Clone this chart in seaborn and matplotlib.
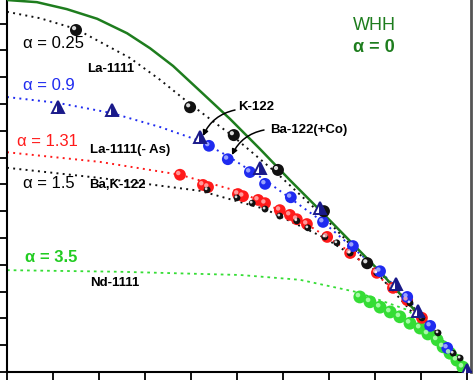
import numpy as np
import pandas as pd
import matplotlib
matplotlib.use("Agg")
import matplotlib.pyplot as plt
import seaborn as sns
from matplotlib.transforms import ScaledTranslation

# ---------------- data (t = T/Tc, h = reduced Hc2) ----------------
whh_t = [0.0, 0.065, 0.130, 0.196, 0.261, 0.311, 0.361, 0.420, 0.485, 0.550, 0.615, 0.680, 0.746, 0.811, 0.876, 0.941, 1.0]
whh_h = [0.694, 0.690, 0.677, 0.659, 0.632, 0.604, 0.571, 0.524, 0.472, 0.416, 0.358, 0.302, 0.244, 0.187, 0.125, 0.062, 0.0]

a025_t = [0.0, 0.072, 0.150, 0.267, 0.333, 0.398, 0.491, 0.589, 0.687, 0.783, 0.876, 0.941, 1.0]
a025_h = [0.672, 0.660, 0.640, 0.586, 0.545, 0.500, 0.440, 0.369, 0.291, 0.205, 0.116, 0.056, 0.0]

a09_t = [0.0, 0.111, 0.228, 0.333, 0.420, 0.480, 0.561, 0.687, 0.811, 0.920, 1.0]
a09_h = [0.513, 0.502, 0.483, 0.457, 0.431, 0.403, 0.358, 0.280, 0.188, 0.093, 0.0]

a131_t = [0.0, 0.202, 0.376, 0.507, 0.637, 0.746, 0.854, 0.941, 1.0]
a131_h = [0.410, 0.392, 0.368, 0.336, 0.284, 0.224, 0.144, 0.060, 0.0]

a15_t = [0.0, 0.202, 0.420, 0.561, 0.691, 0.811, 0.920, 1.0]
a15_h = [0.381, 0.362, 0.338, 0.304, 0.250, 0.185, 0.088, 0.0]

a35_t = [0.0, 0.246, 0.507, 0.637, 0.761, 0.870, 0.926, 1.0]
a35_h = [0.190, 0.187, 0.181, 0.172, 0.149, 0.116, 0.076, 0.0]

la1111_t = [0.150, 0.398, 0.493, 0.589, 0.689, 0.783]
la1111_h = [0.638, 0.494, 0.442, 0.377, 0.300, 0.203]

k122_t = [0.111, 0.228, 0.420, 0.550, 0.680, 0.846, 0.893, 1.0]
k122_h = [0.494, 0.489, 0.438, 0.381, 0.306, 0.164, 0.114, 0.004]

ba122co_t = [0.439, 0.480, 0.528, 0.561, 0.617, 0.687, 0.752, 0.811, 0.870, 0.920, 0.957]
ba122co_h = [0.422, 0.397, 0.373, 0.351, 0.326, 0.280, 0.235, 0.188, 0.140, 0.086, 0.045]

laas_t = [0.376, 0.426, 0.437, 0.502, 0.513, 0.546, 0.561, 0.593, 0.615, 0.630, 0.652, 0.696, 0.746, 0.804, 0.839, 0.870, 0.902]
laas_h = [0.368, 0.349, 0.345, 0.332, 0.328, 0.321, 0.315, 0.302, 0.293, 0.285, 0.276, 0.252, 0.222, 0.185, 0.157, 0.134, 0.101]

bak_t = [0.435, 0.500, 0.533, 0.561, 0.593, 0.630, 0.654, 0.691, 0.717, 0.746, 0.804, 0.839, 0.876, 0.902, 0.937, 0.970, 0.985]
bak_h = [0.340, 0.325, 0.315, 0.304, 0.291, 0.282, 0.269, 0.252, 0.241, 0.222, 0.185, 0.157, 0.129, 0.101, 0.073, 0.035, 0.026]

nd_t = [0.767, 0.789, 0.811, 0.833, 0.854, 0.876, 0.898, 0.915, 0.935, 0.948, 0.963, 0.978, 0.991]
nd_h = [0.140, 0.131, 0.121, 0.112, 0.103, 0.091, 0.082, 0.071, 0.060, 0.047, 0.035, 0.022, 0.009]

# ---------------- figure ----------------
sns.set_theme(style="white")
plt.rcParams['font.family'] = ['Liberation Sans', 'DejaVu Sans']

W, H = 474, 380
fig = plt.figure(figsize=(W / 100, H / 100), dpi=100)
ax = fig.add_axes([7 / W, 8 / H, 464 / W, 382 / H])
ax.set_xlim(0, 464 / 460)
ax.set_ylim(0, 382 / 536)


def P(px, py):
    """pixel -> data coordinates (for text/annotation placement)"""
    return (px - 7) / 460, (372 - py) / 536


DOT = (0, (1, 2.2))
GREEN_D = "#1e7d1e"
BLUE = "#1f2bf0"
NAVY = "#1a1a8a"
RED = "#ff1a1a"
LIME = "#35dd35"

curves = [
    (a35_t, a35_h, LIME, (0, (1.5, 2.2)), 1.3),
    (a15_t, a15_h, "#111111", DOT, 1.4),
    (a131_t, a131_h, RED, DOT, 1.4),
    (a09_t, a09_h, BLUE, DOT, 1.4),
    (a025_t, a025_h, "#111111", DOT, 1.4),
]
for tt, hh, c, ls, lw in curves:
    df = pd.DataFrame({"t": tt, "h": hh})
    sns.lineplot(data=df, x="t", y="h", ax=ax, color=c, linestyle=ls, lw=lw,
                 sort=False, estimator=None, zorder=2)

df = pd.DataFrame({"t": whh_t, "h": whh_h})
sns.lineplot(data=df, x="t", y="h", ax=ax, color=GREEN_D, lw=1.8,
             sort=False, estimator=None, zorder=3)


def balls(tt, hh, color, hl, size, hs, off):
    df = pd.DataFrame({"t": tt, "h": hh})
    sns.scatterplot(data=df, x="t", y="h", ax=ax, color=color, s=size,
                    edgecolor="none", linewidth=0, zorder=4)
    sns.scatterplot(data=df, x="t", y="h", ax=ax, color=hl, s=hs,
                    edgecolor="none", linewidth=0, alpha=0.85, zorder=5)
    coll = ax.collections[-1]
    coll.set_offset_transform(ax.transData + ScaledTranslation(-off / 100, off / 100, fig.dpi_scale_trans))


balls(nd_t, nd_h, LIME, "#b8ffb8", 85, 11, 1.9)
balls(laas_t, laas_h, RED, "#ffb0b0", 72, 10, 1.7)
balls(bak_t, bak_h, "#111111", "#ffffff", 24, 4, 1.0)
balls(ba122co_t, ba122co_h, BLUE, "#b0b8ff", 72, 10, 1.7)
balls(la1111_t, la1111_h, "#111111", "#ffffff", 75, 9, 1.9)

df = pd.DataFrame({"t": k122_t, "h": k122_h})
sns.lineplot(data=df, x="t", y="h", ax=ax, linestyle="none", marker="^",
             markersize=9, fillstyle="right", markerfacecolor=NAVY,
             markerfacecoloralt="white", markeredgecolor=NAVY, markeredgewidth=1.4,
             sort=False, estimator=None, zorder=6)

# ---------------- text ----------------
fs_a = 12
ax.text(*P(23, 43), "α = 0.25", color="black", fontsize=fs_a, va="center", ha="left")
ax.text(*P(23, 86), "α = 0.9", color=BLUE, fontsize=fs_a, va="center", ha="left")
ax.text(*P(17, 142), "α = 1.31", color=RED, fontsize=fs_a, va="center", ha="left")
ax.text(*P(23, 183), "α = 1.5", color="black", fontsize=fs_a, va="center", ha="left")
ax.text(*P(25, 257), "α = 3.5", color="#22cc22", fontsize=fs_a, fontweight="bold", va="center", ha="left")
ax.text(*P(353, 25), "WHH", color=GREEN_D, fontsize=13, va="center", ha="left")
ax.text(*P(353, 48), "α = 0", color=GREEN_D, fontsize=13, fontweight="bold", va="center", ha="left")

fs_b = 9.5
ax.text(*P(87, 69), "La-1111", fontsize=fs_b, fontweight="bold", va="center", ha="left", color="black")
ax.text(*P(90, 150), "La-1111(- As)", fontsize=fs_b, fontweight="bold", va="center", ha="left", color="black")
ax.text(*P(89, 185), "Ba,K-122", fontsize=fs_b, fontweight="bold", va="center", ha="left", color="black")
ax.text(*P(90, 283), "Nd-1111", fontsize=fs_b, fontweight="bold", va="center", ha="left", color="black")
ax.text(*P(238, 107), "K-122", fontsize=fs_b, fontweight="bold", va="center", ha="left", color="black")
ax.text(*P(270, 130), "Ba-122(+Co)", fontsize=fs_b, fontweight="bold", va="center", ha="left", color="black")

ax.annotate("", xy=P(203, 136), xytext=P(235, 110),
            arrowprops=dict(arrowstyle="-|>", color="black", lw=1.1,
                            mutation_scale=8, connectionstyle="arc3,rad=0.25",
                            shrinkA=0, shrinkB=0))
ax.annotate("", xy=P(232, 155), xytext=P(264, 130),
            arrowprops=dict(arrowstyle="-|>", color="black", lw=1.1,
                            mutation_scale=8, connectionstyle="arc3,rad=0.25",
                            shrinkA=0, shrinkB=0))

# ---------------- axes styling ----------------
ax.set_xlabel("")
ax.set_ylabel("")
ax.set_xticks(np.arange(0, 1.01, 0.1))
ax.set_yticks(np.arange(0, 0.70, 0.05))
ax.set_xticklabels([])
ax.set_yticklabels([])
ax.tick_params(axis="both", direction="out", length=6, width=1.3, color="black",
               left=True, bottom=True, right=False, top=False)
for side in ["left", "bottom"]:
    ax.spines[side].set_color("black")
    ax.spines[side].set_linewidth(1.5)
ax.spines["right"].set_color("#555555")
ax.spines["right"].set_linewidth(2.0)
ax.spines["top"].set_visible(False)
ax.grid(False)

fig.savefig("out.png", dpi=100)
